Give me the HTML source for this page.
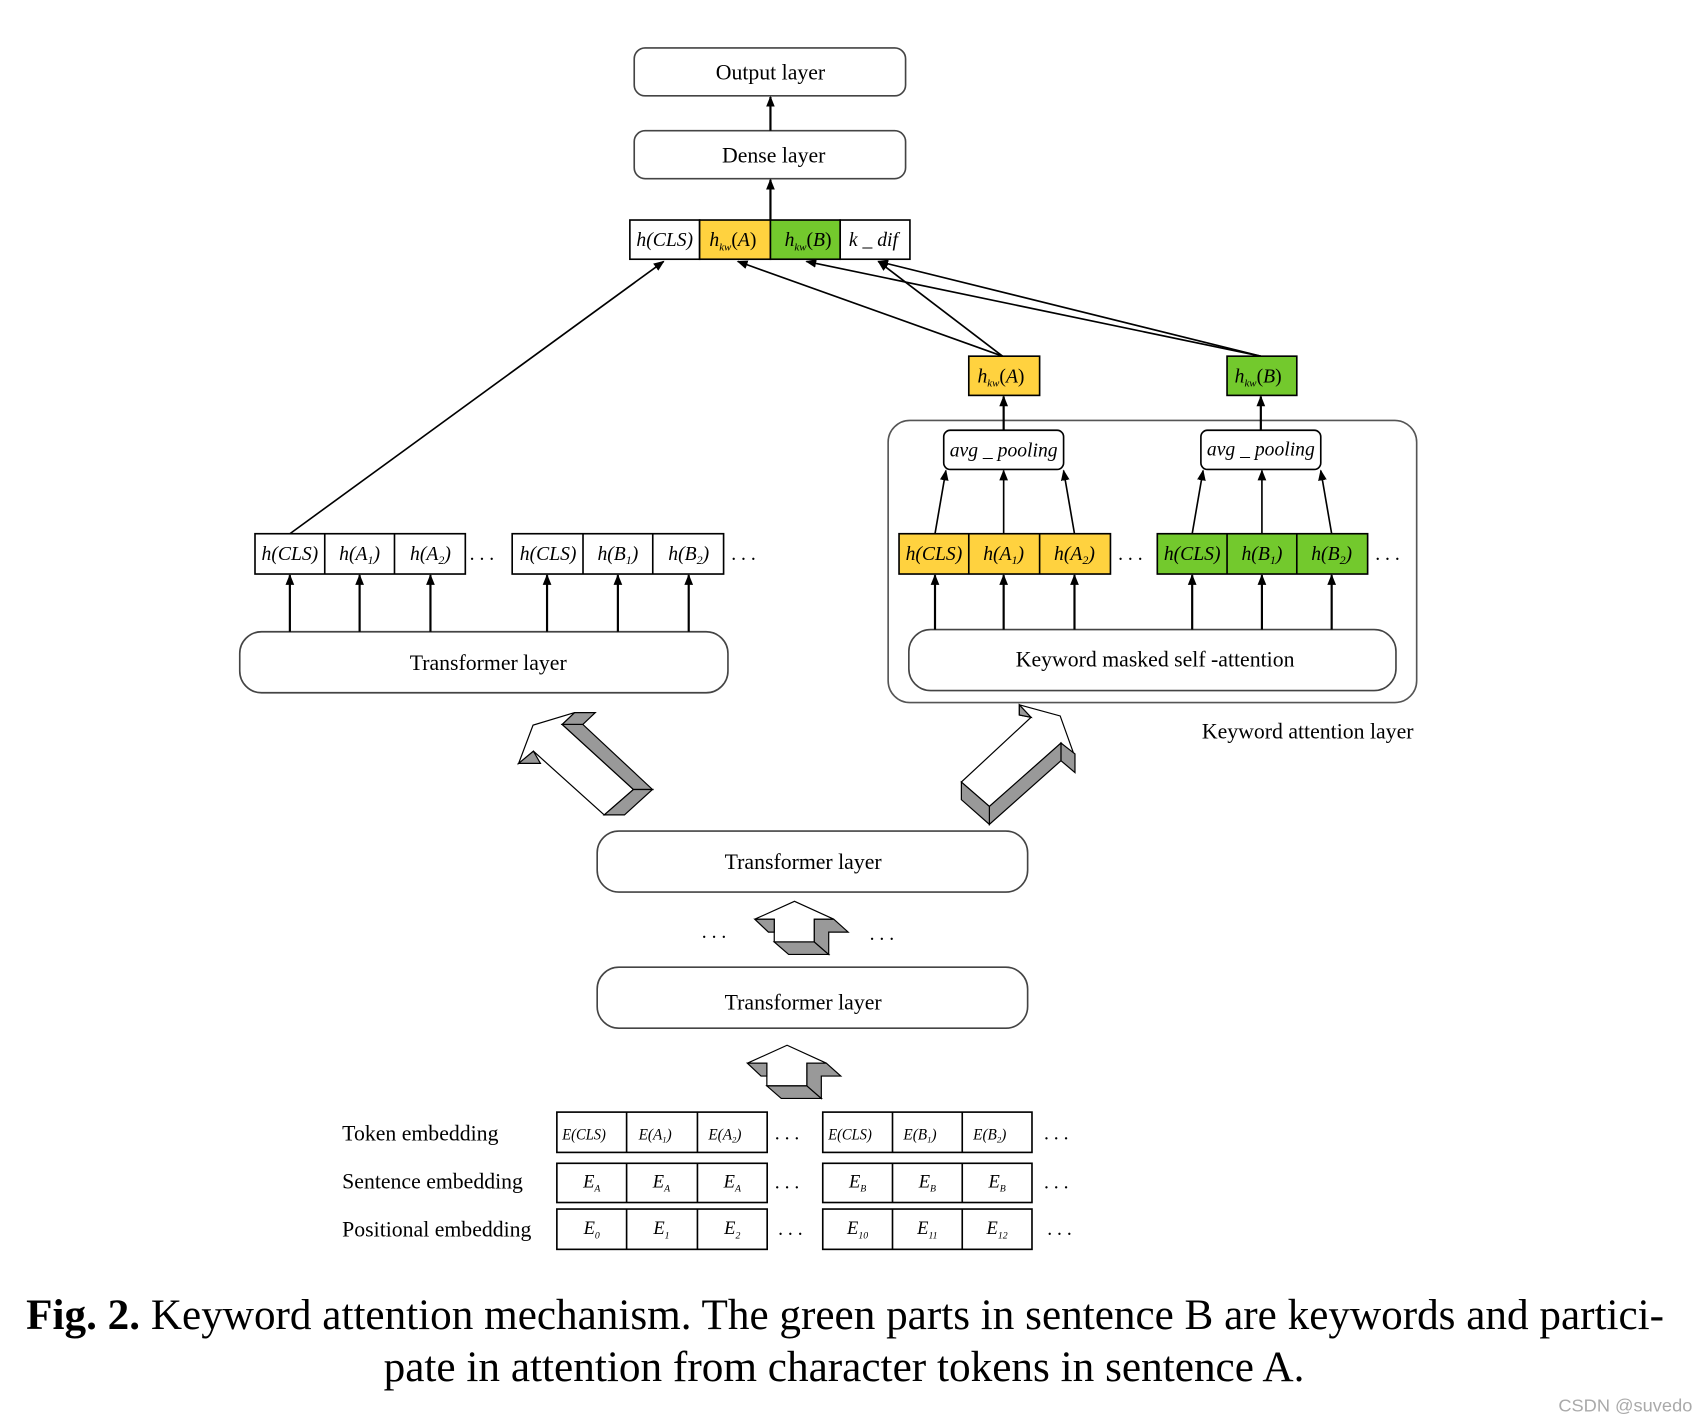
<!DOCTYPE html>
<html><head><meta charset="utf-8"><style>
html,body{margin:0;padding:0;background:#fff;}
svg{display:block;}
text{font-family:"Liberation Serif",serif;fill:#000;}
.i{font-style:italic;}
</style></head><body>
<svg width="1700" height="1416" viewBox="0 0 1560 1300" preserveAspectRatio="none" xmlns="http://www.w3.org/2000/svg">
<defs>
<marker id="ah" markerWidth="10" markerHeight="10" refX="9" refY="5" orient="auto" markerUnits="userSpaceOnUse">
<path d="M0,1 L10,5 L0,9 Z" fill="#000"/></marker>
</defs>
<g fill="none" stroke="#000" stroke-width="1.5">
<rect x="582" y="44" width="249" height="44" rx="10" stroke="#444"/>
<rect x="582" y="120" width="249" height="44" rx="10" stroke="#444"/>
<line x1="707" y1="120" x2="707" y2="89" marker-end="url(#ah)" stroke-width="2"/>
<line x1="707" y1="202" x2="707" y2="165" marker-end="url(#ah)" stroke-width="2"/>
</g>
<rect x="578" y="202" width="64" height="36" fill="#fff" stroke="#000" stroke-width="1.5"/>
<rect x="642" y="202" width="65" height="36" fill="#FFD23F" stroke="#000" stroke-width="1.5"/>
<rect x="707" y="202" width="64" height="36" fill="#73C92D" stroke="#000" stroke-width="1.5"/>
<rect x="771" y="202" width="64" height="36" fill="#fff" stroke="#000" stroke-width="1.5"/>
<text x="610" y="226" font-size="18" text-anchor="middle" class="i">h(CLS)</text>
<text x="651" y="226" font-size="18"><tspan class="i">h</tspan><tspan font-size="10" dy="4" class="i">kw</tspan><tspan dy="-4">(</tspan><tspan class="i">A</tspan>)</text>
<text x="720" y="226" font-size="18"><tspan class="i">h</tspan><tspan font-size="10" dy="4" class="i">kw</tspan><tspan dy="-4">(</tspan><tspan class="i">B</tspan>)</text>
<text x="779" y="226" font-size="18" class="i">k _ dif</text>

<g fill="none" stroke="#000" stroke-width="1.5">
<line x1="266" y1="490" x2="609" y2="240" marker-end="url(#ah)"/>
<line x1="920" y1="327" x2="677" y2="240" marker-end="url(#ah)"/>
<line x1="920" y1="327" x2="806" y2="240" marker-end="url(#ah)"/>
<line x1="1157" y1="327" x2="740" y2="240" marker-end="url(#ah)"/>
<line x1="1157" y1="327" x2="806" y2="240" marker-end="url(#ah)"/>
<rect x="815" y="386" width="485" height="259" rx="20" stroke="#555"/>
<rect x="866" y="395" width="110" height="36" rx="6" fill="#fff"/>
<rect x="1102" y="395" width="110" height="36" rx="6" fill="#fff"/>
<line x1="921" y1="395" x2="921" y2="364" marker-end="url(#ah)" stroke-width="2"/>
<line x1="1157" y1="395" x2="1157" y2="364" marker-end="url(#ah)" stroke-width="2"/>
<line x1="858" y1="490" x2="868" y2="432" marker-end="url(#ah)"/>
<line x1="921" y1="490" x2="921" y2="432" marker-end="url(#ah)"/>
<line x1="986" y1="490" x2="976" y2="432" marker-end="url(#ah)"/>
<line x1="1094" y1="490" x2="1104" y2="432" marker-end="url(#ah)"/>
<line x1="1158" y1="490" x2="1158" y2="432" marker-end="url(#ah)"/>
<line x1="1222" y1="490" x2="1212" y2="432" marker-end="url(#ah)"/>
<rect x="834" y="578" width="447" height="56" rx="20" stroke="#444"/>
<g stroke-width="2">
<line x1="858" y1="578" x2="858" y2="528" marker-end="url(#ah)"/>
<line x1="921" y1="578" x2="921" y2="528" marker-end="url(#ah)"/>
<line x1="986" y1="578" x2="986" y2="528" marker-end="url(#ah)"/>
<line x1="1094" y1="578" x2="1094" y2="528" marker-end="url(#ah)"/>
<line x1="1158" y1="578" x2="1158" y2="528" marker-end="url(#ah)"/>
<line x1="1222" y1="578" x2="1222" y2="528" marker-end="url(#ah)"/>
</g>
<rect x="220" y="580" width="448" height="56" rx="20" stroke="#444"/>
<g stroke-width="2">
<line x1="266" y1="580" x2="266" y2="528" marker-end="url(#ah)"/>
<line x1="330" y1="580" x2="330" y2="528" marker-end="url(#ah)"/>
<line x1="395" y1="580" x2="395" y2="528" marker-end="url(#ah)"/>
<line x1="502" y1="580" x2="502" y2="528" marker-end="url(#ah)"/>
<line x1="567" y1="580" x2="567" y2="528" marker-end="url(#ah)"/>
<line x1="632" y1="580" x2="632" y2="528" marker-end="url(#ah)"/>
</g>
<rect x="548" y="763" width="395" height="56" rx="20" stroke="#444"/>
<rect x="548" y="888" width="395" height="56" rx="20" stroke="#444"/>
</g>
<rect x="889" y="327" width="65" height="36" fill="#FFD23F" stroke="#000" stroke-width="1.5"/>
<rect x="1126" y="327" width="64" height="36" fill="#73C92D" stroke="#000" stroke-width="1.5"/>
<text x="897" y="351" font-size="18"><tspan class="i">h</tspan><tspan font-size="10" dy="4" class="i">kw</tspan><tspan dy="-4">(</tspan><tspan class="i">A</tspan>)</text>
<text x="1133" y="351" font-size="18"><tspan class="i">h</tspan><tspan font-size="10" dy="4" class="i">kw</tspan><tspan dy="-4">(</tspan><tspan class="i">B</tspan>)</text>
<text x="921" y="419" font-size="18" text-anchor="middle" class="i">avg _ pooling</text>
<text x="1157" y="418" font-size="18" text-anchor="middle" class="i">avg _ pooling</text>

<g stroke="#000" stroke-width="1.5">
<rect x="825" y="490" width="194" height="37" fill="#FFD23F"/>
<line x1="889" y1="490" x2="889" y2="527"/><line x1="954" y1="490" x2="954" y2="527"/>
<rect x="1062" y="490" width="193" height="37" fill="#73C92D"/>
<line x1="1126" y1="490" x2="1126" y2="527"/><line x1="1190" y1="490" x2="1190" y2="527"/>
<rect x="234" y="490" width="193" height="37" fill="#fff"/>
<line x1="298" y1="490" x2="298" y2="527"/><line x1="362" y1="490" x2="362" y2="527"/>
<rect x="470" y="490" width="194" height="37" fill="#fff"/>
<line x1="535" y1="490" x2="535" y2="527"/><line x1="599" y1="490" x2="599" y2="527"/>
</g>
<g font-size="18" text-anchor="middle" class="i">
<text x="857" y="514">h(CLS)</text>
<text x="921" y="514">h(A<tspan font-size="11" dy="4">1</tspan><tspan dy="-4">)</tspan></text>
<text x="986" y="514">h(A<tspan font-size="11" dy="4">2</tspan><tspan dy="-4">)</tspan></text>
<text x="1094" y="514">h(CLS)</text>
<text x="1158" y="514">h(B<tspan font-size="11" dy="4">1</tspan><tspan dy="-4">)</tspan></text>
<text x="1222" y="514">h(B<tspan font-size="11" dy="4">2</tspan><tspan dy="-4">)</tspan></text>
<text x="266" y="514">h(CLS)</text>
<text x="330" y="514">h(A<tspan font-size="11" dy="4">1</tspan><tspan dy="-4">)</tspan></text>
<text x="395" y="514">h(A<tspan font-size="11" dy="4">2</tspan><tspan dy="-4">)</tspan></text>
<text x="503" y="514">h(CLS)</text>
<text x="567" y="514">h(B<tspan font-size="11" dy="4">1</tspan><tspan dy="-4">)</tspan></text>
<text x="632" y="514">h(B<tspan font-size="11" dy="4">2</tspan><tspan dy="-4">)</tspan></text>
</g>
<g font-size="18">
<text x="1026" y="514">. . .</text><text x="1262" y="514">. . .</text>
<text x="431" y="514">. . .</text><text x="671" y="514">. . .</text>
<text x="644" y="861">. . .</text><text x="798" y="863">. . .</text>
</g>
<g font-size="20" text-anchor="middle">
<text x="707" y="73">Output  layer</text>
<text x="710" y="149">Dense layer</text>
<text x="1060" y="612">Keyword masked self -attention</text>
<text x="1200" y="678">Keyword attention layer</text>
<text x="448" y="615">Transformer layer</text>
<text x="737" y="798">Transformer layer</text>
<text x="737" y="927">Transformer layer</text>
</g>

<g transform="translate(458.8,642.4) scale(0.357,0.311)" stroke="#000" stroke-width="1.2" stroke-linejoin="miter">
<polygon points="48,188 85,75 192,38 160,73 343,265 268,340 86,152" fill="#fff" vector-effect="non-scaling-stroke"/>
<polygon points="192,38 245,38 213,73 160,73" fill="#999" vector-effect="non-scaling-stroke"/>
<polygon points="160,73 213,73 392,265 343,265" fill="#999" vector-effect="non-scaling-stroke"/>
<polygon points="343,265 392,265 320,340 268,340" fill="#999" vector-effect="non-scaling-stroke"/>
<polygon points="48,188 86,152 104,188" fill="#999" vector-effect="non-scaling-stroke"/>
<polygon points="1335,15 1440,48 1475,160 1442,128 1258,315 1186,243 1365,52 1335,45" fill="#fff" vector-effect="non-scaling-stroke"/>
<polygon points="1335,15 1365,52 1335,45" fill="#999" vector-effect="non-scaling-stroke"/>
<polygon points="1442,128 1478,160 1478,215 1442,180" fill="#999" vector-effect="non-scaling-stroke"/>
<polygon points="1442,128 1442,180 1258,368 1258,315" fill="#999" vector-effect="non-scaling-stroke"/>
<polygon points="1186,243 1258,315 1258,368 1186,295" fill="#999" vector-effect="non-scaling-stroke"/>
<polygon points="655,648 757,595 858,648 808,648 808,715 705,715 705,648" fill="#fff" vector-effect="non-scaling-stroke"/>
<polygon points="655,648 705,648 705,686 690,686" fill="#999" vector-effect="non-scaling-stroke"/>
<polygon points="705,715 808,715 845,752 742,752" fill="#999" vector-effect="non-scaling-stroke"/>
<polygon points="808,648 858,648 895,686 845,686 845,752 808,715" fill="#999" vector-effect="non-scaling-stroke"/>
<g transform="translate(-19,425)">
<polygon points="655,648 757,595 858,648 808,648 808,715 705,715 705,648" fill="#fff" vector-effect="non-scaling-stroke"/>
<polygon points="655,648 705,648 705,686 690,686" fill="#999" vector-effect="non-scaling-stroke"/>
<polygon points="705,715 808,715 845,752 742,752" fill="#999" vector-effect="non-scaling-stroke"/>
<polygon points="808,648 858,648 895,686 845,686 845,752 808,715" fill="#999" vector-effect="non-scaling-stroke"/>
</g>
</g>

<g fill="none" stroke="#000" stroke-width="1.5">
<rect x="511" y="1021" width="193" height="37"/><line x1="575" y1="1021" x2="575" y2="1058"/><line x1="640" y1="1021" x2="640" y2="1058"/>
<rect x="755" y="1021" width="192" height="37"/><line x1="819" y1="1021" x2="819" y2="1058"/><line x1="883" y1="1021" x2="883" y2="1058"/>
<rect x="511" y="1068" width="193" height="36"/><line x1="575" y1="1068" x2="575" y2="1104"/><line x1="640" y1="1068" x2="640" y2="1104"/>
<rect x="755" y="1068" width="192" height="36"/><line x1="819" y1="1068" x2="819" y2="1104"/><line x1="883" y1="1068" x2="883" y2="1104"/>
<rect x="511" y="1110" width="193" height="37"/><line x1="575" y1="1110" x2="575" y2="1147"/><line x1="640" y1="1110" x2="640" y2="1147"/>
<rect x="755" y="1110" width="192" height="37"/><line x1="819" y1="1110" x2="819" y2="1147"/><line x1="883" y1="1110" x2="883" y2="1147"/>
</g>
<g font-size="20">
<text x="314" y="1047">Token embedding</text>
<text x="314" y="1091">Sentence embedding</text>
<text x="314" y="1135">Positional embedding</text>
</g>
<g font-size="18">
<text x="711" y="1046">. . .</text><text x="958" y="1046">. . .</text>
<text x="711" y="1091">. . .</text><text x="958" y="1091">. . .</text>
<text x="714" y="1134">. . .</text><text x="961" y="1134">. . .</text>
</g>
<g font-size="14" class="i">
<text x="516" y="1046" textLength="40" lengthAdjust="spacingAndGlyphs">E(CLS)</text>
<text x="586" y="1046">E(A<tspan font-size="8" dy="3">1</tspan><tspan dy="-3">)</tspan></text>
<text x="650" y="1046">E(A<tspan font-size="8" dy="3">2</tspan><tspan dy="-3">)</tspan></text>
<text x="760" y="1046" textLength="40" lengthAdjust="spacingAndGlyphs">E(CLS)</text>
<text x="829" y="1046">E(B<tspan font-size="8" dy="3">1</tspan><tspan dy="-3">)</tspan></text>
<text x="893" y="1046">E(B<tspan font-size="8" dy="3">2</tspan><tspan dy="-3">)</tspan></text>
</g>
<g font-size="17" class="i" text-anchor="middle">
<text x="543" y="1090">E<tspan font-size="9" dy="4">A</tspan></text>
<text x="607" y="1090">E<tspan font-size="9" dy="4">A</tspan></text>
<text x="672" y="1090">E<tspan font-size="9" dy="4">A</tspan></text>
<text x="787" y="1090">E<tspan font-size="9" dy="4">B</tspan></text>
<text x="851" y="1090">E<tspan font-size="9" dy="4">B</tspan></text>
<text x="915" y="1090">E<tspan font-size="9" dy="4">B</tspan></text>
<text x="543" y="1133">E<tspan font-size="9" dy="4">0</tspan></text>
<text x="607" y="1133">E<tspan font-size="9" dy="4">1</tspan></text>
<text x="672" y="1133">E<tspan font-size="9" dy="4">2</tspan></text>
<text x="787" y="1133">E<tspan font-size="9" dy="4">10</tspan></text>
<text x="851" y="1133">E<tspan font-size="9" dy="4">11</tspan></text>
<text x="915" y="1133">E<tspan font-size="9" dy="4">12</tspan></text>
</g>

<text x="24" y="1220" font-size="40" textLength="1503" lengthAdjust="spacingAndGlyphs"><tspan font-weight="bold">Fig. 2.</tspan> Keyword attention mechanism. The green parts in sentence B are keywords and partici-</text>
<text x="352" y="1268" font-size="40" textLength="845" lengthAdjust="spacingAndGlyphs">pate in attention from character tokens in sentence A.</text>
<text x="1430" y="1296" font-size="16" style="font-family:'Liberation Sans',sans-serif;fill:#aaa" textLength="123" lengthAdjust="spacingAndGlyphs">CSDN @suvedo</text>
</svg>
</body></html>
